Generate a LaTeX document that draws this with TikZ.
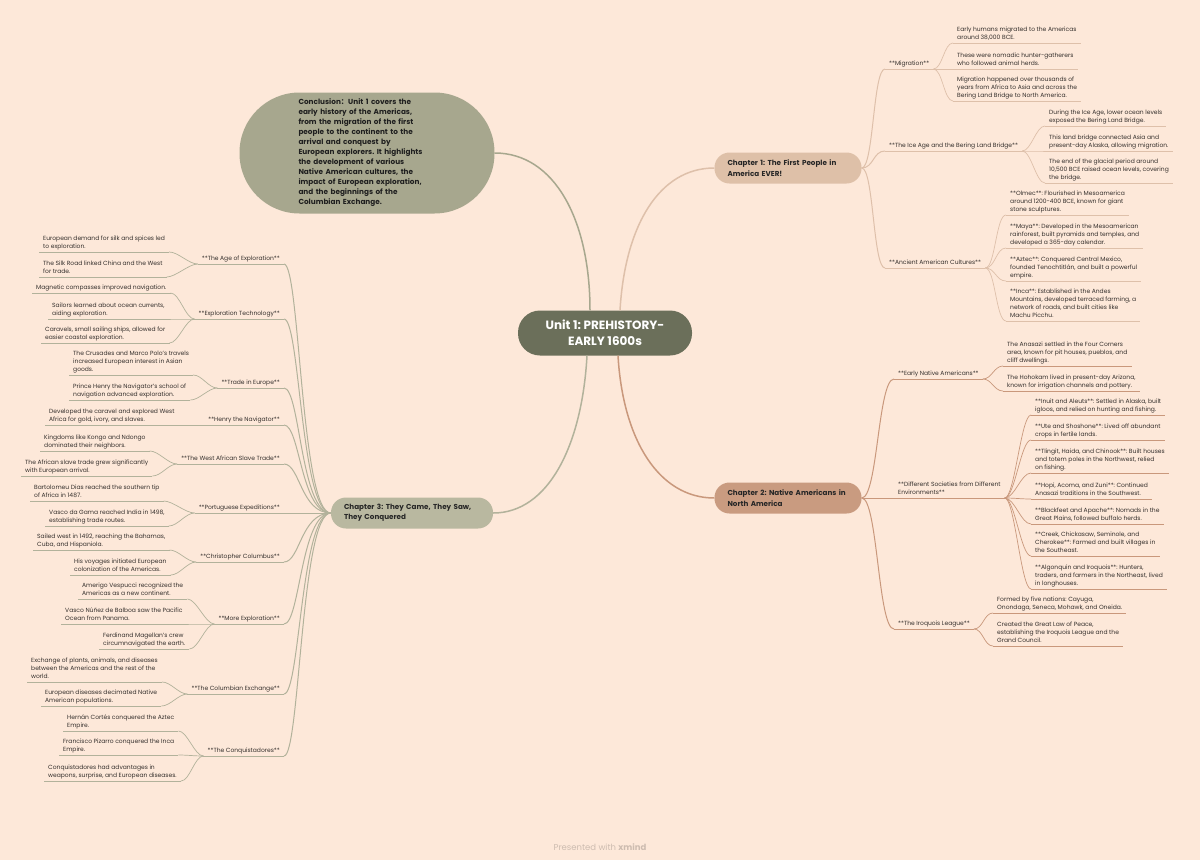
\documentclass[tikz,border=0pt]{standalone}
\usepackage{fontspec}
\setmainfont{Poppins}
\newfontfamily\cjkfont{Noto Sans CJK SC}
\usepackage{xcolor}
\usepackage{tikz}
\frenchspacing

\definecolor{paper}{RGB}{253,232,217}
\definecolor{rootfill}{RGB}{107,111,90}
\definecolor{notefill}{RGB}{167,167,142}
\definecolor{chAfill}{RGB}{222,192,168}
\definecolor{chBfill}{RGB}{201,155,128}
\definecolor{chCfill}{RGB}{185,184,160}
\definecolor{lnA}{RGB}{222,192,170}
\definecolor{lnB}{RGB}{201,152,124}
\definecolor{lnC}{RGB}{178,178,155}
\definecolor{ink}{RGB}{52,47,44}
\definecolor{stamp}{RGB}{205,188,176}

\begin{document}
\begin{tikzpicture}[
    x=1pt, y=-1pt,
    root/.style={rectangle, rounded corners=22pt, fill=rootfill, text=white, minimum width=174pt, minimum height=45pt, align=center, font=\fontsize{12}{16}\selectfont\bfseries},
    chapter/.style={rectangle, rounded corners=15pt, minimum height=31pt, inner xsep=13pt, align=left, text=black!85, font=\fontsize{7.2}{10.5}\selectfont\bfseries},
    note/.style={rectangle, rounded corners=60pt, fill=notefill, minimum height=121pt, inner xsep=59pt, text width=137pt, align=left, text=black!88, font=\fontsize{7.3}{10}\selectfont\bfseries},
    under/.style={append after command={(\tikzlastnode.south west) edge[draw=#1, line width=0.7pt] (\tikzlastnode.south east)}},
    topic/.style={inner xsep=4pt, inner ysep=2pt, text depth=1.6pt, align=left, text=ink, font=\fontsize{6}{8}\selectfont},
    itemA/.style={topic, anchor=south west, under=lnA},
    itemB/.style={topic, anchor=south west, under=lnB},
    itemC/.style={topic, anchor=south west, under=lnC},
    subC/.style={topic, anchor=south east, under=lnC},
    linkA/.style={draw=lnA, line width=0.7pt},
    linkB/.style={draw=lnB, line width=0.7pt},
    linkC/.style={draw=lnC, line width=0.7pt},
    branch/.style={line width=1.5pt}
]

% Background
\fill[paper] (0,0) rectangle (1200,860);

% Central topic and main nodes
\node[root] (root) at (605,333) {Unit 1: PREHISTORY-\\EARLY 1600s};
\node[note] (concl) at (367,153) {Conclusion{\cjkfont ：}Unit 1 covers the\\early history of the Americas,\\from the migration of the first\\people to the continent to the\\arrival and conquest by\\European explorers. It highlights\\the development of various\\Native American cultures, the\\impact of European exploration,\\and the beginnings of the\\Columbian Exchange.};
\node[chapter, fill=chAfill, text width=121pt] (ch1) at (788,168) {Chapter 1: The First People in\\America EVER!};
\node[chapter, fill=chBfill, text width=121pt] (ch2) at (788,498) {Chapter 2: Native Americans in\\North America};
\node[chapter, fill=chCfill, text width=136pt] (ch3) at (412,513) {Chapter 3: They Came, They Saw,\\They Conquered};

\draw[branch, draw=notefill] ([xshift=-15pt]root.north) .. controls +(0,-90) and +(60,0) .. (concl.east);
\draw[branch, draw=lnA] ([xshift=15pt]root.north) .. controls +(5,-85) and +(-55,0) .. (ch1.west);
\draw[branch, draw=lnB] ([xshift=13pt]root.south) .. controls +(5,85) and +(-55,0) .. (ch2.west);
\draw[branch, draw=lnC] ([xshift=-18pt]root.south) .. controls +(-5,90) and +(55,0) .. (ch3.east);

% Chapter 1: Migration
\node[itemA] (mig) at (885,69) {**Migration**};
\node[itemA] (mig1) at (953,43) {Early humans migrated to the Americas\\around 38,000 BCE.};
\node[itemA] (mig2) at (953,69) {These were nomadic hunter-gatherers\\who followed animal herds.};
\node[itemA] (mig3) at (953,101) {Migration happened over thousands of\\years from Africa to Asia and across the\\Bering Land Bridge to North America.};

% Chapter 1: Ice Age
\node[itemA] (ice) at (885,151) {**The Ice Age and the Bering Land Bridge**};
\node[itemA] (ice1) at (1045,126) {During the Ice Age, lower ocean levels\\exposed the Bering Land Bridge.};
\node[itemA] (ice2) at (1045,151) {This land bridge connected Asia and\\present-day Alaska, allowing migration.};
\node[itemA] (ice3) at (1045,183) {The end of the glacial period around\\10,500 BCE raised ocean levels, covering\\the bridge.};

% Chapter 1: Ancient cultures
\node[itemA] (anc) at (885,268) {**Ancient American Cultures**};
\node[itemA] (anc1) at (1006,215) {**Olmec**: Flourished in Mesoamerica\\around 1200-400 BCE, known for giant\\stone sculptures.};
\node[itemA] (anc2) at (1006,248) {**Maya**: Developed in the Mesoamerican\\rainforest, built pyramids and temples, and\\developed a 365-day calendar.};
\node[itemA] (anc3) at (1006,281) {**Aztec**: Conquered Central Mexico,\\founded Tenochtitlán, and built a powerful\\empire.};
\node[itemA] (anc4) at (1006,321) {**Inca**: Established in the Andes\\Mountains, developed terraced farming, a\\network of roads, and built cities like\\Machu Picchu.};

\draw[linkA, line width=1pt] (ch1.east) .. controls +(12,0) and +(-12,0) .. (mig.south west);
\draw[linkA, line width=1pt] (ch1.east) .. controls +(12,0) and +(-12,0) .. (ice.south west);
\draw[linkA, line width=1pt] (ch1.east) .. controls +(12,0) and +(-12,0) .. (anc.south west);
\draw[linkA] (mig.south east) .. controls +(9,0) and +(-9,0) .. (mig1.south west);
\draw[linkA] (mig.south east) .. controls +(9,0) and +(-9,0) .. (mig2.south west);
\draw[linkA] (mig.south east) .. controls +(9,0) and +(-9,0) .. (mig3.south west);
\draw[linkA] (ice.south east) .. controls +(9,0) and +(-9,0) .. (ice1.south west);
\draw[linkA] (ice.south east) .. controls +(9,0) and +(-9,0) .. (ice2.south west);
\draw[linkA] (ice.south east) .. controls +(9,0) and +(-9,0) .. (ice3.south west);
\draw[linkA] (anc.south east) .. controls +(10,0) and +(-10,0) .. (anc1.south west);
\draw[linkA] (anc.south east) .. controls +(10,0) and +(-10,0) .. (anc2.south west);
\draw[linkA] (anc.south east) .. controls +(10,0) and +(-10,0) .. (anc3.south west);
\draw[linkA] (anc.south east) .. controls +(10,0) and +(-10,0) .. (anc4.south west);

% Chapter 2: Early Native Americans
\node[itemB] (early) at (894,379) {**Early Native Americans**};
\node[itemB] (early1) at (1003,366) {The Anasazi settled in the Four Corners\\area, known for pit houses, pueblos, and\\cliff dwellings.};
\node[itemB] (early2) at (1003,391) {The Hohokam lived in present-day Arizona,\\known for irrigation channels and pottery.};

% Chapter 2: Different societies
\node[itemB] (diff) at (894,498) {**Different Societies from Different\\Environments**};
\node[itemB] (diff1) at (1031,415) {**Inuit and Aleuts**: Settled in Alaska, built\\igloos, and relied on hunting and fishing.};
\node[itemB] (diff2) at (1031,440) {**Ute and Shoshone**: Lived off abundant\\crops in fertile lands.};
\node[itemB] (diff3) at (1031,473) {**Tlingit, Haida, and Chinook**: Built houses\\and totem poles in the Northwest, relied\\on fishing.};
\node[itemB] (diff4) at (1031,499) {**Hopi, Acoma, and Zuni**: Continued\\Anasazi traditions in the Southwest.};
\node[itemB] (diff5) at (1031,524) {**Blackfeet and Apache**: Nomads in the\\Great Plains, followed buffalo herds.};
\node[itemB] (diff6) at (1031,556) {**Creek, Chickasaw, Seminole, and\\Cherokee**: Farmed and built villages in\\the Southeast.};
\node[itemB] (diff7) at (1031,589) {**Algonquin and Iroquois**: Hunters,\\traders, and farmers in the Northeast, lived\\in longhouses.};

% Chapter 2: Iroquois League
\node[itemB] (iro) at (894,629) {**The Iroquois League**};
\node[itemB] (iro1) at (993,613) {Formed by five nations: Cayuga,\\Onondaga, Seneca, Mohawk, and Oneida.};
\node[itemB] (iro2) at (993,646) {Created the Great Law of Peace,\\establishing the Iroquois League and the\\Grand Council.};

\draw[linkB, line width=1pt] (ch2.east) .. controls +(16,0) and +(-16,0) .. (early.south west);
\draw[linkB, line width=1pt] (ch2.east) .. controls +(16,0) and +(-16,0) .. (diff.south west);
\draw[linkB, line width=1pt] (ch2.east) .. controls +(16,0) and +(-16,0) .. (iro.south west);
\draw[linkB] (early.south east) .. controls +(9,0) and +(-9,0) .. (early1.south west);
\draw[linkB] (early.south east) .. controls +(9,0) and +(-9,0) .. (early2.south west);
\draw[linkB] (diff.south east) .. controls +(10,0) and +(-10,0) .. (diff1.south west);
\draw[linkB] (diff.south east) .. controls +(10,0) and +(-10,0) .. (diff2.south west);
\draw[linkB] (diff.south east) .. controls +(10,0) and +(-10,0) .. (diff3.south west);
\draw[linkB] (diff.south east) .. controls +(10,0) and +(-10,0) .. (diff4.south west);
\draw[linkB] (diff.south east) .. controls +(10,0) and +(-10,0) .. (diff5.south west);
\draw[linkB] (diff.south east) .. controls +(10,0) and +(-10,0) .. (diff6.south west);
\draw[linkB] (diff.south east) .. controls +(10,0) and +(-10,0) .. (diff7.south west);
\draw[linkB] (iro.south east) .. controls +(9,0) and +(-9,0) .. (iro1.south west);
\draw[linkB] (iro.south east) .. controls +(9,0) and +(-9,0) .. (iro2.south west);

% Chapter 3: subtopics (left side)
\node[subC] (age) at (284,264) {**The Age of Exploration**};
\node[subC] (tech) at (284,319) {**Exploration Technology**};
\node[subC] (trade) at (284,388) {**Trade in Europe**};
\node[subC] (henry) at (284,425) {**Henry the Navigator**};
\node[subC] (slave) at (284,464) {**The West African Slave Trade**};
\node[subC] (port) at (284,513) {**Portuguese Expeditions**};
\node[subC] (col) at (284,562) {**Christopher Columbus**};
\node[subC] (more) at (284,624) {**More Exploration**};
\node[subC] (cex) at (284,694) {**The Columbian Exchange**};
\node[subC] (conq) at (284,756) {**The Conquistadores**};

% Chapter 3: details
\node[itemC] (age1) at (39,252) {European demand for silk and spices led\\to exploration.};
\node[itemC] (age2) at (39,277) {The Silk Road linked China and the West\\for trade.};
\node[itemC] (tech1) at (32,293) {Magnetic compasses improved navigation.};
\node[itemC] (tech2) at (48,319) {Sailors learned about ocean currents,\\aiding exploration.};
\node[itemC] (tech3) at (41,343) {Caravels, small sailing ships, allowed for\\easier coastal exploration.};
\node[itemC] (trade1) at (69,375) {The Crusades and Marco Polo's travels\\increased European interest in Asian\\goods.};
\node[itemC] (trade2) at (69,400) {Prince Henry the Navigator's school of\\navigation advanced exploration.};
\node[itemC] (henry1) at (45,425) {Developed the caravel and explored West\\Africa for gold, ivory, and slaves.};
\node[itemC] (slave1) at (40,451) {Kingdoms like Kongo and Ndongo\\dominated their neighbors.};
\node[itemC] (slave2) at (21,476) {The African slave trade grew significantly\\with European arrival.};
\node[itemC] (port1) at (30,501) {Bartolomeu Dias reached the southern tip\\of Africa in 1487.};
\node[itemC] (port2) at (45,526) {Vasco da Gama reached India in 1498,\\establishing trade routes.};
\node[itemC] (col1) at (33,550) {Sailed west in 1492, reaching the Bahamas,\\Cuba, and Hispaniola.};
\node[itemC] (col2) at (70,575) {His voyages initiated European\\colonization of the Americas.};
\node[itemC] (more1) at (78,599) {Amerigo Vespucci recognized the\\Americas as a new continent.};
\node[itemC] (more2) at (61,624) {Vasco Núñez de Balboa saw the Pacific\\Ocean from Panama.};
\node[itemC] (more3) at (99,649) {Ferdinand Magellan's crew\\circumnavigated the earth.};
\node[itemC] (cex1) at (27,682) {Exchange of plants, animals, and diseases\\between the Americas and the rest of the\\world.};
\node[itemC] (cex2) at (41,706) {European diseases decimated Native\\American populations.};
\node[itemC] (conq1) at (63,731) {Hernán Cortés conquered the Aztec\\Empire.};
\node[itemC] (conq2) at (59,755) {Francisco Pizarro conquered the Inca\\Empire.};
\node[itemC] (conq3) at (44,781) {Conquistadores had advantages in\\weapons, surprise, and European diseases.};

\draw[linkC, line width=1pt] (ch3.west) .. controls +(-30,0) and +(16,0) .. (age.south east);
\draw[linkC, line width=1pt] (ch3.west) .. controls +(-30,0) and +(16,0) .. (tech.south east);
\draw[linkC, line width=1pt] (ch3.west) .. controls +(-30,0) and +(16,0) .. (trade.south east);
\draw[linkC, line width=1pt] (ch3.west) .. controls +(-30,0) and +(16,0) .. (henry.south east);
\draw[linkC, line width=1pt] (ch3.west) .. controls +(-30,0) and +(16,0) .. (slave.south east);
\draw[linkC, line width=1pt] (ch3.west) -- (port.south east);
\draw[linkC, line width=1pt] (ch3.west) .. controls +(-30,0) and +(16,0) .. (col.south east);
\draw[linkC, line width=1pt] (ch3.west) .. controls +(-30,0) and +(16,0) .. (more.south east);
\draw[linkC, line width=1pt] (ch3.west) .. controls +(-30,0) and +(16,0) .. (cex.south east);
\draw[linkC, line width=1pt] (ch3.west) .. controls +(-30,0) and +(16,0) .. (conq.south east);

\draw[linkC] (age.south west) .. controls +(-9,0) and +(9,0) .. (age1.south east);
\draw[linkC] (age.south west) .. controls +(-9,0) and +(9,0) .. (age2.south east);
\draw[linkC] (tech.south west) .. controls +(-9,0) and +(9,0) .. (tech1.south east);
\draw[linkC] (tech.south west) .. controls +(-9,0) and +(9,0) .. (tech2.south east);
\draw[linkC] (tech.south west) .. controls +(-9,0) and +(9,0) .. (tech3.south east);
\draw[linkC] (trade.south west) .. controls +(-9,0) and +(9,0) .. (trade1.south east);
\draw[linkC] (trade.south west) .. controls +(-9,0) and +(9,0) .. (trade2.south east);
\draw[linkC] (henry.south west) -- (henry1.south east);
\draw[linkC] (slave.south west) .. controls +(-9,0) and +(9,0) .. (slave1.south east);
\draw[linkC] (slave.south west) .. controls +(-9,0) and +(9,0) .. (slave2.south east);
\draw[linkC] (port.south west) .. controls +(-9,0) and +(9,0) .. (port1.south east);
\draw[linkC] (port.south west) .. controls +(-9,0) and +(9,0) .. (port2.south east);
\draw[linkC] (col.south west) .. controls +(-9,0) and +(9,0) .. (col1.south east);
\draw[linkC] (col.south west) .. controls +(-9,0) and +(9,0) .. (col2.south east);
\draw[linkC] (more.south west) .. controls +(-9,0) and +(9,0) .. (more1.south east);
\draw[linkC] (more.south west) .. controls +(-9,0) and +(9,0) .. (more2.south east);
\draw[linkC] (more.south west) .. controls +(-9,0) and +(9,0) .. (more3.south east);
\draw[linkC] (cex.south west) .. controls +(-9,0) and +(9,0) .. (cex1.south east);
\draw[linkC] (cex.south west) .. controls +(-9,0) and +(9,0) .. (cex2.south east);
\draw[linkC] (conq.south west) .. controls +(-9,0) and +(9,0) .. (conq1.south east);
\draw[linkC] (conq.south west) .. controls +(-9,0) and +(9,0) .. (conq2.south east);
\draw[linkC] (conq.south west) .. controls +(-9,0) and +(9,0) .. (conq3.south east);

% Footer
\node[text=stamp, font=\fontsize{8.5}{10}\selectfont] (brand) at (600,847) {Presented with \textbf{xmind}};

\end{tikzpicture}
\end{document}
